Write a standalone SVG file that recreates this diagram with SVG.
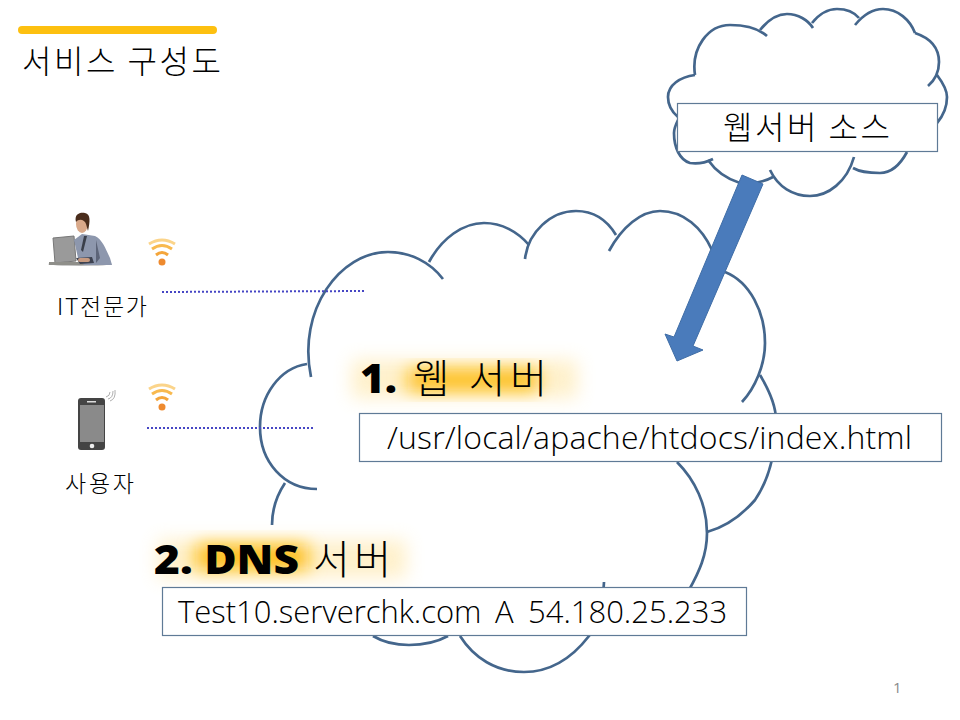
<svg xmlns="http://www.w3.org/2000/svg" width="960" height="720" viewBox="0 0 960 720">
<style>
text{font-family:"Open Sans","Noto Sans CJK KR",sans-serif;fill:#000}
.ko{font-family:"Noto Sans CJK KR","Open Sans",sans-serif;font-weight:300}
.cl{fill:none;stroke:#44668c;stroke-width:2.7;stroke-linecap:butt}
.bg{fill:#fff;stroke:none}
.box{fill:#fff;stroke:#5f7a96;stroke-width:1.2}
.dot{fill:none;stroke:#4646c4;stroke-width:2;stroke-dasharray:2 2}
.w1{fill:none;stroke:#fbd48a;stroke-width:3}
.w2{fill:none;stroke:#f8b94e;stroke-width:3}
.w3{fill:none;stroke:#f4a53a;stroke-width:3}
</style>
<defs>
<filter id="blurA" x="-30%" y="-60%" width="160%" height="220%"><feGaussianBlur stdDeviation="9"/></filter>
<g id="wifi"><circle cx="0" cy="0" r="3.500" fill="#ee8a2e"/><path class="w3" d="M-6,-7Q0,-12 6,-7"/><path class="w2" d="M-10,-13Q0,-20 10,-13"/><path class="w1" d="M-13,-18Q0,-26 13,-18"/></g>
</defs>
<rect width="960" height="720" fill="#fff"/>
<g id="title"><rect x="18" y="26" width="199" height="8" rx="4" fill="#fdc010"/><text class="ko" x="22" y="73" font-size="32" textLength="199">서비스 구성도</text></g>
<g id="cloud-main">
<path class="bg" d="M311,377C295,310 340,252 388,252C405,252 420,255 429,262C445,235 465,223 484,223C500,223 515,232 529,245C540,222 558,211 576,211C592,211 606,222 616,235C628,220 645,211 660,211C685,211 702,230 712,250L725,272C750,285 765,315 765,343C765,355 763,367 760,375C770,390 776,400 776,413L774,462C772,480 765,510 707,532C705,555 700,570 689,587L604,640C590,650 555,672 524,672C495,672 470,655 448,636C430,645 420,645 409,645L272,525C272,505 278,495 285,483C262,465 260,445 260,427C260,395 280,370 307,364Z"/>
<path class="cl" d="M311,377C297,310 340,252 388,252C410,252 430,262 443,279"/>
<path class="cl" d="M429,262C442,238 463,223 484,223C502,223 518,232 529,245"/>
<path class="cl" d="M525,259C528,232 551,211 576,211C593,211 607,220 616,235"/>
<path class="cl" d="M609,251C622,227 641,211 660,211C684,211 702,228 712,250"/>
<path class="cl" d="M725,272C750,282 765,312 765,343C765,365 755,388 742,402"/>
<path class="cl" d="M760,375C769,390 776,405 776,420C776,445 772,475 755,500C742,515 725,527 707,532"/>
<path class="cl" d="M677,462C695,480 707,505 707,533C707,555 699,572 689,590"/>
<path class="cl" d="M604,582C603,605 598,620 589,636C572,658 550,672 524,672C496,672 474,658 460,636"/>
<path class="cl" d="M373,636C383,642 396,645 409,645C424,645 437,642 448,636"/>
<path class="cl" d="M272,525C272,508 277,495 285,483"/>
<path class="cl" d="M317,489C284,489 260,462 260,427C260,395 280,368 307,364"/>
</g>
<g id="cloud-source">
<path class="bg" d="M695,75C692,48 708,25 730,25C745,25 755,28 760,30C768,20 778,14 787,14C798,14 806,20 812,23C820,13 830,9 837,9C846,9 854,13 859,18C866,12 875,9 883,9C898,9 910,20 915,33C930,40 939,50 939,60L937,75C945,85 947,90 947,97L937,123L907,152C900,165 892,173 883,173C870,173 860,172 853,168C845,185 828,196 810,196C795,196 780,188 773,177C762,183 750,185 740,183C725,178 715,170 708,160L690,163L678,117C670,110 668,103 668,97C668,85 680,78 695,75Z"/>
<path class="cl" d="M695,75C691,48 708,25 730,25C745,25 758,28 767,36"/>
<path class="cl" d="M760,30C768,20 778,14 787,14C798,14 808,20 813,28"/>
<path class="cl" d="M812,23C820,13 828,9 837,9C846,9 854,12 859,18"/>
<path class="cl" d="M855,25C864,14 873,9 883,9C898,9 910,20 915,33"/>
<path class="cl" d="M915,33C930,38 939,48 939,62C939,72 935,80 928,86"/>
<path class="cl" d="M937,75C943,83 947,90 947,97C947,107 943,116 937,123"/>
<path class="cl" d="M907,152C900,165 892,173 880,173C870,173 860,172 853,168"/>
<path class="cl" d="M854,157C847,182 828,196 810,196C793,196 778,187 770,170"/>
<path class="cl" d="M773,177C764,182 752,184 740,183C727,179 715,170 708,160"/>
<path class="cl" d="M713,159C705,163 697,164 690,163C680,160 674,148 674,133C674,128 676,124 678,120"/>
<path class="cl" d="M695,75C680,77 668,85 668,97C668,105 672,112 678,117"/>
</g>
<g id="connectors">
<line class="dot" x1="162" y1="292" x2="364" y2="291"/>
<line class="dot" x1="147" y1="428" x2="313" y2="428"/>
<polygon points="742,175 763,184 693,346 703,350 677,361 665,334 674,337" fill="#4a7bbb" stroke="#3f6da6" stroke-width="1"/>
</g>
<g id="user-it">
<ellipse cx="80" cy="264" rx="32" ry="2" fill="#bbb"/>
<polygon points="53,238 74,236 76,261 55,263" fill="#9a9a9a" stroke="#777"/>
<rect x="49" y="262" width="40" height="3" fill="#8f8f8a"/>
<path d="M74,240L82,234L95,236C103,240 106,250 110,258L112,265L84,265L78,258Z" fill="#8d97ad"/>
<path d="M84,236L87,236L83,252L81,250Z" fill="#3a3f4a"/>
<path d="M96,240L100,258L96,263Z" fill="#5c6478"/>
<path d="M76,258L92,257L94,263L80,264Z" fill="#3d4250"/>
<rect x="78" y="258" width="12" height="4" rx="2" fill="#c79a80"/>
<ellipse cx="82" cy="224" rx="6" ry="9" fill="#d9a98a"/>
<path d="M76,222C74,214 80,212 85,213C91,214 90,222 88,231L86,224C85,220 79,218 76,222Z" fill="#4a2d1c"/>
</g>
<use id="wifi-1" href="#wifi" x="162" y="262"/>
<g id="user-phone">
<rect x="78" y="398" width="27" height="52" rx="3" fill="#444"/>
<rect x="80" y="405" width="24" height="37" fill="#8a8a8a"/>
<rect x="87" y="401" width="9" height="1.500" fill="#ddd"/>
<circle cx="92" cy="446" r="2.300" fill="#eee"/>
<path d="M106,397Q110,396 110,392M108,399Q113,398 113,391M110,401Q116,399 115,390" fill="none" stroke="#999" stroke-width=".8"/>
</g>
<use id="wifi-2" href="#wifi" x="162" y="407"/>
<g id="labels"><text class="ko" x="57" y="315" font-size="23" textLength="90" font-weight="400">IT전문가</text><text class="ko" x="65" y="492" font-size="23" textLength="69">사용자</text></g>
<g id="web-server">
<rect x="352" y="360" width="225" height="38" fill="#fedf8c" opacity=".45" filter="url(#blurA)"/>
<rect x="408" y="370" width="130" height="20" fill="#fdbb10" filter="url(#blurA)"/>
<text x="360" y="393" font-size="40" font-weight="800" textLength="37" lengthAdjust="spacingAndGlyphs">1.</text>
<text class="ko" x="413" y="393" font-size="40" textLength="134">웹 서버</text>
<rect class="box" x="359.500" y="413.500" width="582" height="48"/>
<text x="387" y="449" font-size="32" font-weight="300" textLength="525">/usr/local/apache/htdocs/index.html</text>
</g>
<g id="dns-server">
<rect x="158" y="540" width="248" height="38" fill="#fedf8c" opacity=".45" filter="url(#blurA)"/>
<rect x="196" y="545" width="112" height="24" fill="#fdbb10" filter="url(#blurA)"/>
<text x="154" y="574" font-size="40" font-weight="800" textLength="145" lengthAdjust="spacingAndGlyphs">2. DNS</text>
<text class="ko" x="313" y="574" font-size="40" textLength="78">서버</text>
<rect class="box" x="162.500" y="587.500" width="584" height="48"/>
<text x="178" y="623" font-size="31" font-weight="300">Test10.serverchk.com<tspan x="495">A</tspan><tspan x="528">54.180.25.233</tspan></text>
</g>
<g id="source-box"><rect class="box" x="677.500" y="103.500" width="260" height="48"/><text class="ko" x="723" y="139" font-size="32" textLength="167">웹서버 소스</text></g>
<text id="page" x="893" y="693" font-size="15" style="fill:#8a8a8a">1</text>
</svg>
